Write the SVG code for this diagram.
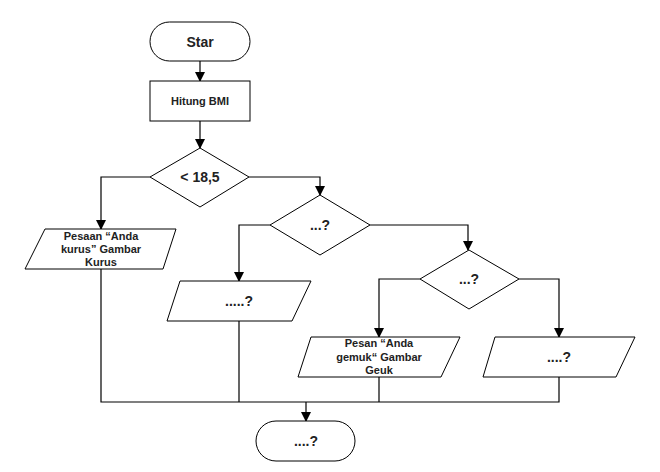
<svg xmlns="http://www.w3.org/2000/svg" width="660" height="472" viewBox="0 0 660 472">
<style>
.s{fill:#fff;stroke:#000;stroke-width:1}
.c{fill:none;stroke:#000;stroke-width:1.2}
text{font-family:"Liberation Sans",Arial,sans-serif;font-weight:bold;font-size:11px;fill:#222;text-anchor:middle}
.b{font-size:14px}
</style>
<defs><marker id="a" markerWidth="10" markerHeight="10" refX="9" refY="5" orient="auto" markerUnits="userSpaceOnUse"><path d="M0,0L10,5L0,10Z" fill="#000"/></marker></defs>
<rect width="660" height="472" fill="#fff"/>
<g id="connectors">
<path class="c" d="M200,61V81" marker-end="url(#a)"/>
<path class="c" d="M200,121V148" marker-end="url(#a)"/>
<path class="c" d="M150,177H101V229" marker-end="url(#a)"/>
<path class="c" d="M249,177H320V195" marker-end="url(#a)"/>
<path class="c" d="M270,225H239V281" marker-end="url(#a)"/>
<path class="c" d="M370,225H468V250" marker-end="url(#a)"/>
<path class="c" d="M420,279H379V337" marker-end="url(#a)"/>
<path class="c" d="M519,279H559V337" marker-end="url(#a)"/>
<path class="c" d="M101,269V402H559V377M239,321V402M379,377V402"/>
<path class="c" d="M306,402V421" marker-end="url(#a)"/>
</g>
<g id="start"><rect class="s" x="150" y="22" width="100" height="39" rx="19.5"/><text class="b" x="200" y="47">Star</text></g>
<g id="hitung"><rect class="s" x="150" y="81" width="100" height="40"/><text x="200" y="105">Hitung BMI</text></g>
<g id="d1"><polygon class="s" points="200,148 249,177 200,207 150,177"/><text class="b" x="200" y="182">&lt; 18,5</text></g>
<g id="p1"><polygon class="s" points="45,229 176,229 163,269 25,269"/><text x="101" y="240">Pesaan “Anda</text><text x="101" y="253">kurus” Gambar</text><text x="101" y="266">Kurus</text></g>
<g id="d2"><polygon class="s" points="320,195 370,225 320,255 270,225"/><text class="b" x="320" y="230">...?</text></g>
<g id="p2"><polygon class="s" points="180,281 311,281 292,321 167,321"/><text class="b" x="239" y="306">.....?</text></g>
<g id="d3"><polygon class="s" points="469,250 519,279 469,309 420,279"/><text class="b" x="469" y="284">...?</text></g>
<g id="p3"><polygon class="s" points="311,337 460,337 441,377 298,377"/><text x="379" y="347">Pesan “Anda</text><text x="379" y="361">gemuk“ Gambar</text><text x="379" y="374">Geuk</text></g>
<g id="p4"><polygon class="s" points="495,337 635,337 616,377 483,377"/><text class="b" x="559" y="362">....?</text></g>
<g id="end"><rect class="s" x="256" y="421" width="99" height="40" rx="20"/><text class="b" x="306" y="446">....?</text></g>
</svg>
